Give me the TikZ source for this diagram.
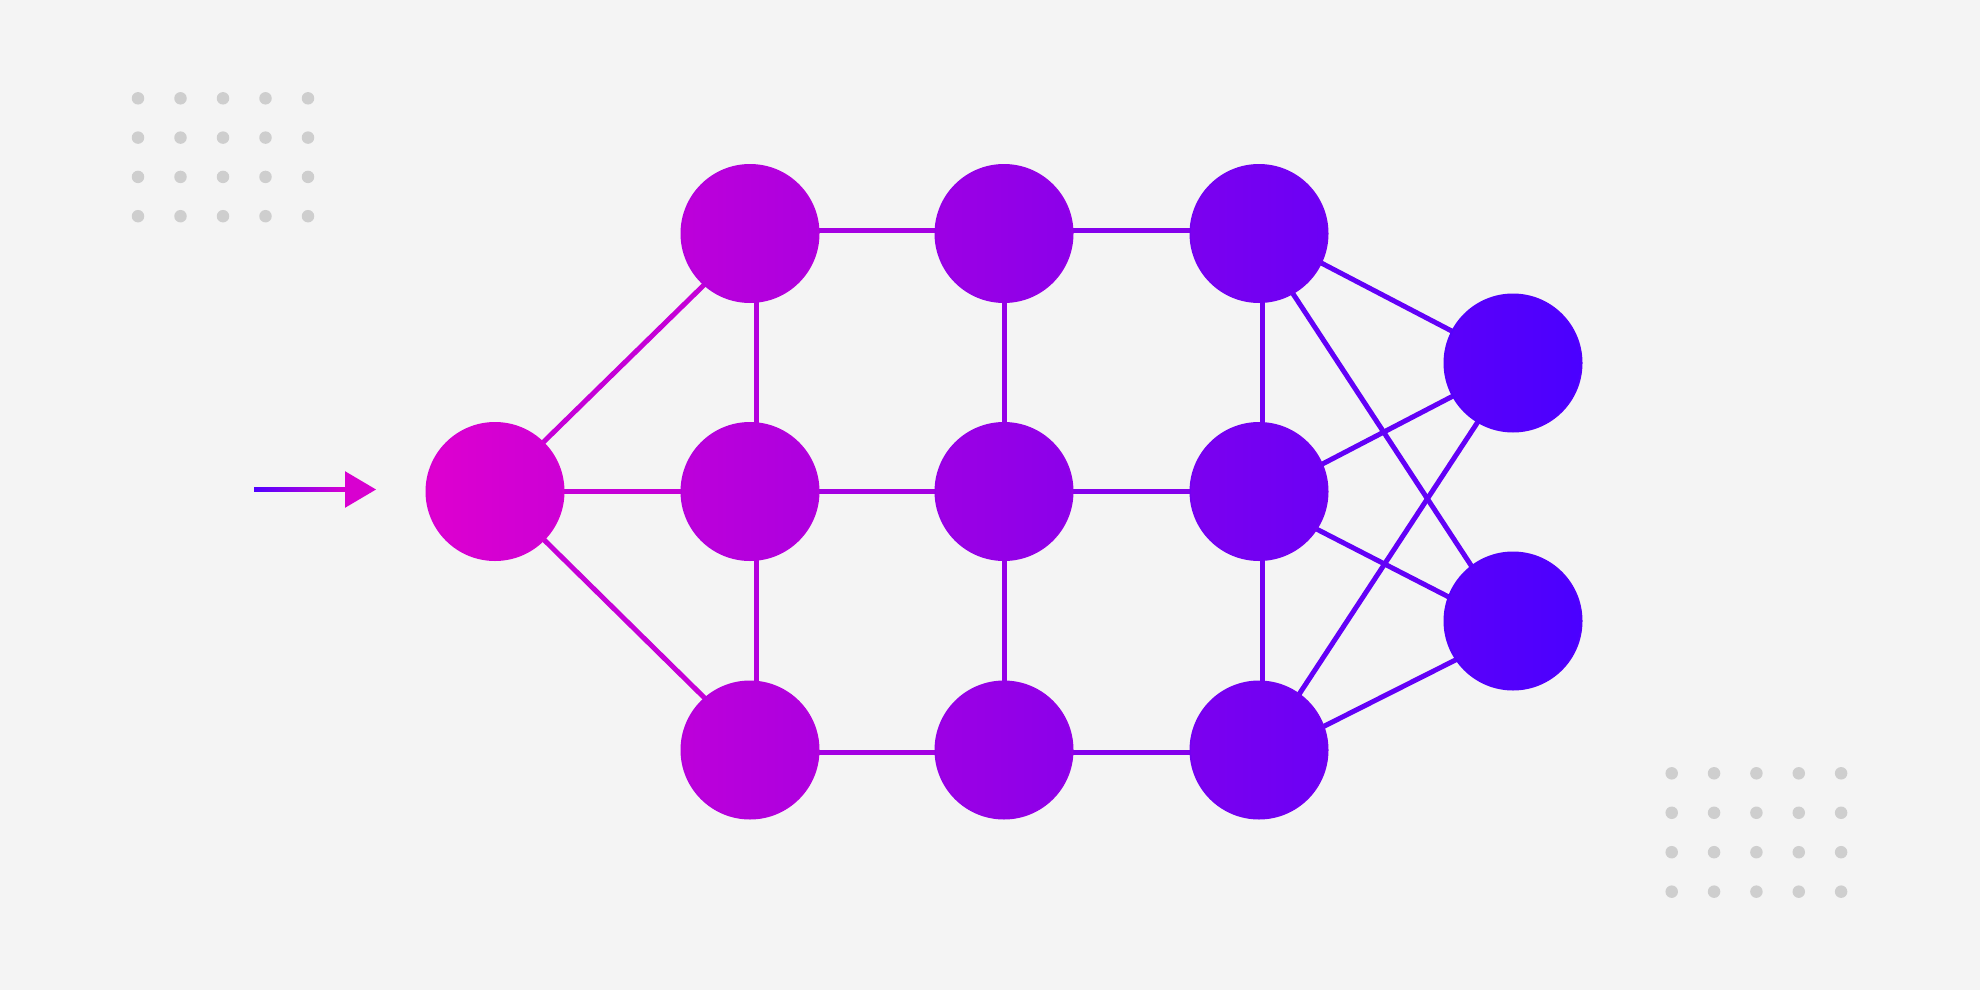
\documentclass[tikz,border=0pt]{standalone}
\usetikzlibrary{calc}
\pgfdeclarelayer{bglayer}
\pgfdeclarelayer{edgelayer}
\pgfsetlayers{bglayer,edgelayer,main}
\definecolor{bgcol}{RGB}{244,244,244}
\definecolor{dotcol}{RGB}{206,206,206}
% gradient samples
\definecolor{gInL}{RGB}{222,0,207}\definecolor{gInM}{RGB}{213,0,210}\definecolor{gInR}{RGB}{204,0,213}
\definecolor{gC2L}{RGB}{189,0,218}\definecolor{gC2M}{RGB}{180,0,221}\definecolor{gC2R}{RGB}{172,0,223}
\definecolor{gC3L}{RGB}{157,0,228}\definecolor{gC3M}{RGB}{148,0,231}\definecolor{gC3R}{RGB}{139,0,234}
\definecolor{gC4L}{RGB}{124,0,239}\definecolor{gC4M}{RGB}{115,0,242}\definecolor{gC4R}{RGB}{107,0,245}
\definecolor{gOutL}{RGB}{92,0,249}\definecolor{gOutM}{RGB}{83,0,252}\definecolor{gOutR}{RGB}{74,0,255}
\definecolor{eA}{RGB}{197,0,215}
\definecolor{eB}{RGB}{164,0,226}
\definecolor{eC}{RGB}{132,0,236}
\definecolor{eD}{RGB}{99,0,247}
\definecolor{vB}{RGB}{180,0,221}
\definecolor{vC}{RGB}{148,0,231}
\definecolor{vD}{RGB}{115,0,242}
\definecolor{arrowmag}{RGB}{216,0,208}
\definecolor{arrowblue}{RGB}{80,0,255}
\tikzset{
  neuron/.style n args={3}{circle, minimum size=139pt, inner sep=0pt, outer sep=0pt, draw=none,
    fill=#2,
    path picture={\clip (path picture bounding box.center) circle (67.5pt);
      \shade[left color=#1, right color=#3]
      (path picture bounding box.south west) rectangle (path picture bounding box.north east);}},
  edge/.style={line width=5pt},
  griddot/.style={circle, fill=dotcol, minimum size=12.5pt, inner sep=0pt, draw=none},
}
\begin{document}
\begin{tikzpicture}[x=1pt,y=-1pt]
\begin{pgfonlayer}{bglayer}
\fill[bgcol] (0,0) rectangle (1980,990);
\end{pgfonlayer}
\useasboundingbox (0,0) rectangle (1980,990);
% dot grids
\foreach \i in {0,...,4}{
  \foreach \j in {0,...,3}{
    \node[griddot] (tl\i\j) at ({138+42.5*\i},{98.3+39.3*\j}) {};
    \node[griddot] (br\i\j) at ({1671.7+42.35*\i},{773.3+39.45*\j}) {};
  }
}
% neurons
\node[neuron={gInL}{gInM}{gInR}] (in) at (495,491.5) {};
\node[neuron={gC2L}{gC2M}{gC2R}] (c21) at (750,233.5) {};
\node[neuron={gC2L}{gC2M}{gC2R}] (c22) at (750,491.5) {};
\node[neuron={gC2L}{gC2M}{gC2R}] (c23) at (750,750) {};
\node[neuron={gC3L}{gC3M}{gC3R}] (c31) at (1004,233.5) {};
\node[neuron={gC3L}{gC3M}{gC3R}] (c32) at (1004,491.5) {};
\node[neuron={gC3L}{gC3M}{gC3R}] (c33) at (1004,750) {};
\node[neuron={gC4L}{gC4M}{gC4R}] (c41) at (1259,233.5) {};
\node[neuron={gC4L}{gC4M}{gC4R}] (c42) at (1259,491.5) {};
\node[neuron={gC4L}{gC4M}{gC4R}] (c43) at (1259,750) {};
\node[neuron={gOutL}{gOutM}{gOutR}] (o1) at (1513,363) {};
\node[neuron={gOutL}{gOutM}{gOutR}] (o2) at (1513,621) {};
% input arrow
\coordinate (atail) at (254,489.5);
\coordinate (abase) at (345,489.5);
\coordinate (atip) at (376,489.5);
\shade[left color=arrowblue, right color=arrowmag] ($(atail)+(0,-2)$) rectangle ($(abase)+(0,2)$);
\fill[arrowmag] ($(abase)+(0,-18.3)$) -- (atip) -- ($(abase)+(0,18.3)$) -- cycle;
\begin{pgfonlayer}{edgelayer}
% input layer to column 2
\draw[edge, eA] ([yshift=2pt]in.center) -- ([yshift=-6.4pt]c21.center);
\draw[edge, eA] (in.center) -- (c22.center);
\draw[edge, eA] (in.center) -- ([yshift=7.3pt]c23.center);
% horizontal edges
\draw[edge, eB] ([yshift=2.8pt]c21.center) -- ([yshift=2.8pt]c31.center);
\draw[edge, eC] ([yshift=2.8pt]c31.center) -- ([yshift=2.8pt]c41.center);
\draw[edge, eB] (c22.center) -- (c32.center);
\draw[edge, eC] (c32.center) -- (c42.center);
\draw[edge, eB] ([yshift=-2.7pt]c23.center) -- ([yshift=-2.7pt]c33.center);
\draw[edge, eC] ([yshift=-2.7pt]c33.center) -- ([yshift=-2.7pt]c43.center);
% vertical edges
\draw[edge, vB] ([xshift=6.3pt]c21.center) -- ([xshift=6.3pt]c22.center);
\draw[edge, vB] ([xshift=6.3pt]c22.center) -- ([xshift=6.3pt]c23.center);
\draw[edge, vC] ([xshift=0.8pt]c31.center) -- ([xshift=0.8pt]c32.center);
\draw[edge, vC] ([xshift=0.8pt]c32.center) -- ([xshift=0.8pt]c33.center);
\draw[edge, vD] ([xshift=3pt]c41.center) -- ([xshift=3pt]c42.center);
\draw[edge, vD] ([xshift=3pt]c42.center) -- ([xshift=3pt]c43.center);
% column 4 to output
\draw[edge, eD] ([yshift=3pt]c41.center) -- (o1.center);
\draw[edge, eD] ([xshift=-5.5pt]c41.center) -- ([xshift=-5.5pt]o2.center);
\draw[edge, eD] ([yshift=-5.5pt]c42.center) -- ([yshift=-1.8pt]o1.center);
\draw[edge, eD] ([yshift=-8pt]c42.center) -- ([yshift=-9pt]o2.center);
\draw[edge, eD] ([xshift=3.5pt]c43.center) -- ([xshift=3.5pt]o1.center);
\draw[edge, eD] ([yshift=-9pt]c43.center) -- ([yshift=-10pt]o2.center);
\end{pgfonlayer}
\end{tikzpicture}
\end{document}
